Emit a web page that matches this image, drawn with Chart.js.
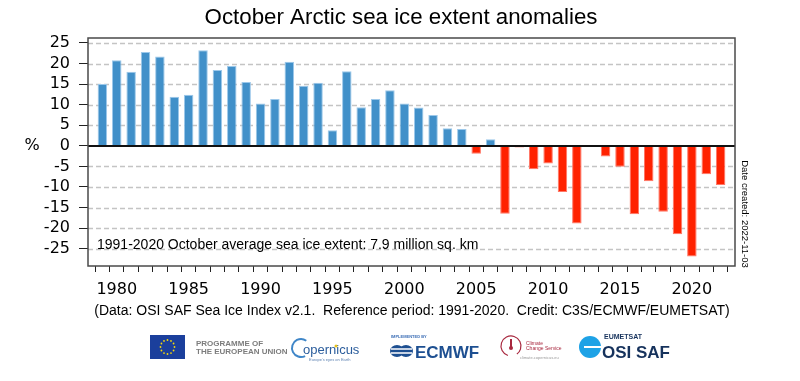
<!DOCTYPE html>
<html>
<head>
<meta charset="utf-8">
<script src="https://cdn.jsdelivr.net/npm/chart.js@4.4.1/dist/chart.umd.min.js"></script>
<style>
  html, body { margin: 0; padding: 0; background: #fff; }
  canvas { display: block; }
</style>
</head>
<body>
<canvas id="iceChart" width="800" height="381"></canvas>
<script>
// October sea ice extent anomaly (%) relative to 1991-2020
const years = [1979, 1980, 1981, 1982, 1983, 1984, 1985, 1986, 1987, 1988,
    1989, 1990, 1991, 1992, 1993, 1994, 1995, 1996, 1997, 1998,
    1999, 2000, 2001, 2002, 2003, 2004, 2005, 2006, 2007, 2008,
    2009, 2010, 2011, 2012, 2013, 2014, 2015, 2016, 2017, 2018,
    2019, 2020, 2021, 2022];
const anomalies = [15.0, 20.8, 18.0, 22.8, 21.7, 11.9, 12.4, 23.2, 18.4, 19.4,
    15.5, 10.3, 11.4, 20.4, 14.6, 15.3, 3.8, 18.1, 9.4, 11.4,
    13.5, 10.3, 9.3, 7.5, 4.3, 4.1, -1.9, 1.6, -16.5, -0.4,
    -5.7, -4.3, -11.2, -18.9, 0.0, -2.6, -5.1, -16.6, -8.6, -16.0,
    -21.5, -26.9, -6.9, -9.5];
const yTicks = [-25, -20, -15, -10, -5, 0, 5, 10, 15, 20, 25];
const xLabelYears = [1980, 1985, 1990, 1995, 2000, 2005, 2010, 2015, 2020];

const titleText = 'October Arctic sea ice extent anomalies';
const noteText = '1991-2020 October average sea ice extent: 7.9 million sq. km';
const footerText = '(Data: OSI SAF Sea Ice Index v2.1.  Reference period: 1991-2020.  Credit: C3S/ECMWF/EUMETSAT)';
const dateText = 'Date created: 2022-11-03';

const SANS = "'Liberation Sans', Arial, Helvetica, sans-serif";
const TICKFONT = "'DejaVu Sans', sans-serif";

function drawLogos(ctx) {
    ctx.save();
    // EU flag
    ctx.fillStyle = '#1b3f9c';
    ctx.fillRect(150, 335, 35, 24);
    ctx.fillStyle = '#f5d90a';
    for (let i = 0; i < 12; i++) {
        const a = i * Math.PI / 6;
        ctx.beginPath();
        ctx.arc(167.5 + 7 * Math.cos(a), 347 + 7 * Math.sin(a), 0.9, 0, Math.PI * 2);
        ctx.fill();
    }
    ctx.fillStyle = '#7d7d7d';
    ctx.font = 'bold 8px ' + SANS;
    ctx.textBaseline = 'alphabetic';
    ctx.fillText('PROGRAMME OF', 196, 346);
    ctx.fillText('THE EUROPEAN UNION', 196, 354);

    // Copernicus
    ctx.strokeStyle = '#3f86c8';
    ctx.lineWidth = 2;
    ctx.beginPath();
    ctx.arc(301, 348, 9, 0.35 * Math.PI, 1.7 * Math.PI);
    ctx.stroke();
    ctx.fillStyle = '#2b5d9c';
    ctx.font = '13px ' + SANS;
    ctx.fillText('opernicus', 303, 354);
    ctx.fillStyle = '#e8c21a';
    ctx.beginPath();
    ctx.arc(336, 346, 1.5, 0, Math.PI * 2);
    ctx.fill();
    ctx.fillStyle = '#5a7fb0';
    ctx.font = '4px ' + SANS;
    ctx.fillText("Europe's eyes on Earth", 309, 361);

    // ECMWF
    ctx.fillStyle = '#3d6fb6';
    ctx.font = 'bold 4px ' + SANS;
    ctx.fillText('IMPLEMENTED BY', 391, 338);
    ctx.fillStyle = '#1d4f91';
    ctx.beginPath();
    ctx.ellipse(397, 351, 7, 6, 0, 0, Math.PI * 2);
    ctx.ellipse(406, 351, 7, 6, 0, 0, Math.PI * 2);
    ctx.fill();
    ctx.strokeStyle = '#ffffff';
    ctx.lineWidth = 1.3;
    ctx.beginPath();
    ctx.moveTo(391, 349); ctx.lineTo(412, 349);
    ctx.moveTo(391, 353); ctx.lineTo(412, 353);
    ctx.stroke();
    ctx.font = 'bold 17px ' + SANS;
    ctx.fillText('ECMWF', 415, 358);

    // Climate Change Service
    ctx.strokeStyle = '#a8283f';
    ctx.lineWidth = 1.2;
    ctx.beginPath();
    ctx.arc(511, 346, 10, 0.6 * Math.PI, 2.3 * Math.PI);
    ctx.stroke();
    ctx.fillStyle = '#a8283f';
    ctx.fillRect(510, 339, 2, 8);
    ctx.beginPath();
    ctx.arc(511, 348, 2, 0, Math.PI * 2);
    ctx.fill();
    ctx.font = '5px ' + SANS;
    ctx.fillText('Climate', 526, 345);
    ctx.fillText('Change Service', 526, 350);
    ctx.fillStyle = '#999';
    ctx.font = '4px ' + SANS;
    ctx.fillText('climate.copernicus.eu', 520, 359);

    // OSI SAF
    ctx.fillStyle = '#1ea2e6';
    ctx.beginPath();
    ctx.arc(590, 347, 11, 0, Math.PI * 2);
    ctx.fill();
    ctx.fillStyle = '#ffffff';
    ctx.fillRect(584, 346, 18, 2);
    ctx.fillStyle = '#16325c';
    ctx.font = 'bold 7px ' + SANS;
    ctx.fillText('EUMETSAT', 604, 339);
    ctx.font = 'bold 17px ' + SANS;
    ctx.fillText('OSI SAF', 602, 358);
    ctx.restore();
}

const framePlugin = {
    id: 'frame',
    beforeDatasetsDraw(chart) {
        const ctx = chart.ctx;
        const area = chart.chartArea;
        const y = chart.scales.y;
        ctx.save();
        ctx.strokeStyle = '#c4c4c4';
        ctx.lineWidth = 1.3;
        ctx.setLineDash([5, 3]);
        yTicks.forEach(v => {
            if (v === 0) return;
            const py = Math.round(y.getPixelForValue(v)) + 0.5;
            ctx.beginPath();
            ctx.moveTo(area.left, py);
            ctx.lineTo(area.right, py);
            ctx.stroke();
        });
        ctx.restore();
    },
    afterDatasetsDraw(chart) {
        const ctx = chart.ctx;
        const area = chart.chartArea;
        const y = chart.scales.y;
        ctx.save();
        // zero line
        ctx.strokeStyle = '#111';
        ctx.lineWidth = 2;
        const y0 = Math.round(y.getPixelForValue(0));
        ctx.beginPath();
        ctx.moveTo(area.left, y0);
        ctx.lineTo(area.right, y0);
        ctx.stroke();
        // frame
        ctx.strokeStyle = '#4a4a4a';
        ctx.lineWidth = 1.5;
        ctx.strokeRect(area.left, area.top, area.right - area.left, area.bottom - area.top);
        ctx.restore();
    },
    afterDraw(chart) {
        const ctx = chart.ctx;
        const area = chart.chartArea;
        const y = chart.scales.y;
        ctx.save();
        ctx.fillStyle = '#000';
        ctx.textAlign = 'center';
        ctx.textBaseline = 'middle';
        ctx.font = '22.3px ' + SANS;
        ctx.fillText(titleText, 401, 18);

        ctx.font = '16px ' + TICKFONT;
        ctx.fillText('%', 32, y.getPixelForValue(0));

        ctx.textAlign = 'left';
        ctx.font = '14px ' + SANS;
        ctx.fillText(noteText, area.left + 9, 245);

        ctx.textAlign = 'center';
        ctx.font = '14px ' + SANS;
        ctx.fillText(footerText, 412, 311);

        ctx.translate(745, 214);
        ctx.rotate(Math.PI / 2);
        ctx.font = '9.5px ' + SANS;
        ctx.fillText(dateText, 0, 0);
        ctx.restore();

        drawLogos(ctx);
    }
};

new Chart(document.getElementById('iceChart').getContext('2d'), {
    type: 'bar',
    data: {
        datasets: [{
            data: years.map((yr, i) => ({ x: yr, y: anomalies[i] })),
            backgroundColor: ctx => (ctx.raw && ctx.raw.y < 0) ? '#ff2200' : '#4190c9',
            borderColor: ctx => (ctx.raw && ctx.raw.y < 0) ? '#ff7766' : '#9cc8ea',
            borderWidth: 1,
            categoryPercentage: 1.0,
            barPercentage: 0.66
        }]
    },
    options: {
        responsive: false,
        animation: false,
        devicePixelRatio: 1,
        layout: { padding: { left: 0, right: 65, top: 38, bottom: 75 } },
        plugins: {
            legend: { display: false },
            tooltip: { enabled: false }
        },
        scales: {
            x: {
                type: 'linear',
                offset: false,
                min: 1978,
                max: 2023,
                afterBuildTicks: scale => {
                    scale.ticks = years.map(v => ({ value: v }));
                },
                afterFit: scale => { scale.height = 40; },
                grid: {
                    drawOnChartArea: false,
                    drawTicks: true,
                    tickLength: 6,
                    tickColor: '#222',
                    tickWidth: 1
                },
                border: { display: false },
                ticks: {
                    autoSkip: false,
                    maxRotation: 0,
                    padding: 8,
                    color: '#000',
                    font: { family: TICKFONT, size: 16 },
                    callback: v => xLabelYears.includes(v) ? String(v) : ''
                }
            },
            y: {
                min: -29.2,
                max: 26.2,
                afterBuildTicks: scale => {
                    scale.ticks = yTicks.map(v => ({ value: v }));
                },
                afterFit: scale => { scale.width = 88; },
                grid: {
                    drawOnChartArea: false,
                    drawTicks: true,
                    tickLength: 9,
                    tickColor: '#222',
                    tickWidth: 1
                },
                border: { display: false },
                ticks: {
                    padding: 9,
                    color: '#000',
                    font: { family: TICKFONT, size: 16 },
                    callback: v => String(v)
                }
            }
        }
    },
    plugins: [framePlugin]
});
</script>
</body>
</html>
